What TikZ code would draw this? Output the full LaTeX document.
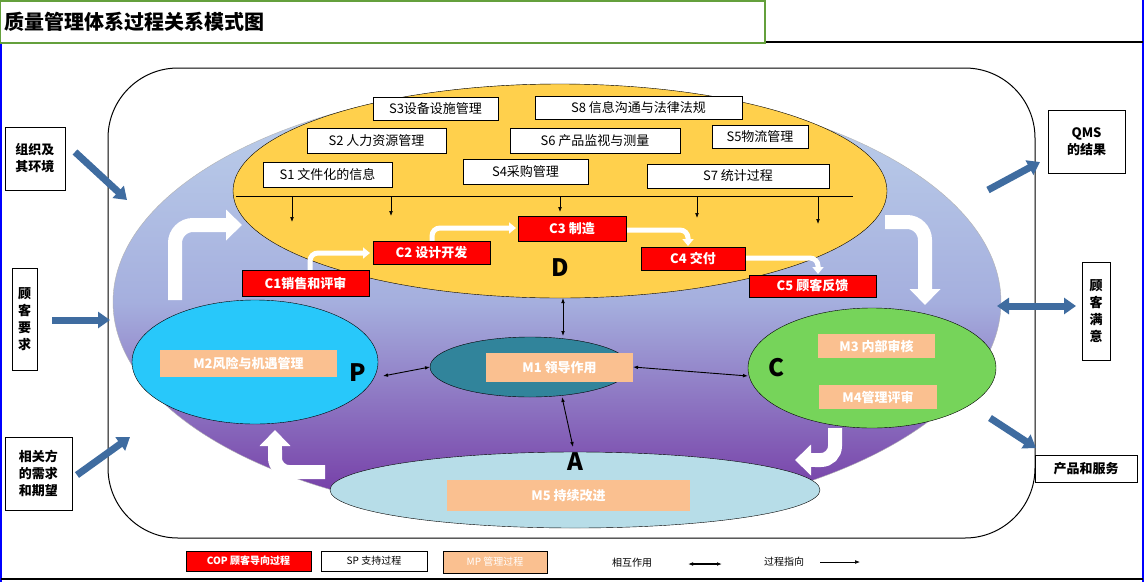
\documentclass[tikz,border=0pt]{standalone}
\usepackage{fontspec}
\setmainfont{Noto Sans CJK SC}
\usetikzlibrary{arrows.meta}
\definecolor{yel}{RGB}{255,208,76}
\definecolor{cred}{RGB}{255,0,0}
\definecolor{salm}{RGB}{250,192,144}
\definecolor{stb}{RGB}{63,108,160}
\definecolor{cyanE}{RGB}{40,200,250}
\definecolor{tealE}{RGB}{49,132,155}
\definecolor{grnE}{RGB}{118,212,90}
\definecolor{aE}{RGB}{183,221,232}
\definecolor{tgrn}{RGB}{100,160,60}
\tikzset{
 sbox/.style={draw,fill=white,inner sep=0pt,font=\fontsize{13}{14}\selectfont},
 cbox/.style={draw,fill=cred,text=white,inner sep=0pt,font=\bfseries\fontsize{13}{14}\selectfont},
 mbox/.style={fill=salm,text=white,inner sep=0pt,font=\bfseries\fontsize{13}{14}\selectfont},
 obox/.style={draw,fill=white,inner sep=0pt,font=\bfseries\fontsize{13}{17}\selectfont,align=center},
 dar/.style={{Latex[length=5pt]}-{Latex[length=5pt]},line width=0.9pt},
 sar/.style={-{Latex[length=5pt]},line width=0.6pt},
 war/.style={white,line width=14pt,-{Triangle[width=30pt,length=16pt]}},
 bar/.style={stb,line width=7pt,-{Triangle[width=16pt,length=12pt]}},
 big/.style={font=\bfseries\fontsize{24}{26}\selectfont},
}
\begin{document}
\begin{tikzpicture}[x=1pt,y=-1pt]
\useasboundingbox (0,0) rectangle (1146,582);
\fill[white] (0,0) rectangle (1146,582);
% frame
\draw[blue,line width=1.2pt] (1,43) -- (1,582);
\draw[blue,line width=1.2pt] (1143,0) -- (1143,582);
\draw[line width=1.5pt] (765,42) -- (1143,42);
\draw[line width=1.5pt] (1,579) -- (1143,579);
\draw[tgrn,line width=1.5pt] (0,1) rectangle (765,43);
\node[anchor=west,font=\bfseries\fontsize{20}{22}\selectfont] (title) at (1,22) {质量管理体系过程关系模式图};
% big rounded rect
\draw[line width=1pt,rounded corners=70pt] (108,68) rectangle (1035,538);
% big shaded ellipse
\shade[top color={rgb,255:red,190;green,210;blue,235},bottom color={rgb,255:red,112;green,48;blue,160},middle color={rgb,255:red,165;green,175;blue,222}] (557,302) ellipse [x radius=444,y radius=218];
\draw[gray!60] (557,302) ellipse [x radius=444,y radius=218];
% yellow ellipse
\draw[fill=yel] (560,191) ellipse [x radius=327,y radius=107];
% S boxes
\node[sbox,minimum width=125pt,minimum height=23pt] (s3) at (435.5,108.5) {S3设备设施管理};
\node[sbox,minimum width=207pt,minimum height=23pt] (s8) at (638.5,107.5) {S8 信息沟通与法律法规};
\node[sbox,minimum width=139pt,minimum height=25pt] (s2) at (376.5,140.5) {S2 人力资源管理};
\node[sbox,minimum width=170pt,minimum height=25pt] (s6) at (595,140.5) {S6 产品监视与测量};
\node[sbox,minimum width=96pt,minimum height=23pt] (s5) at (760,136.5) {S5物流管理};
\node[sbox,minimum width=129pt,minimum height=25pt] (s1) at (327.5,174.5) {S1 文件化的信息};
\node[sbox,minimum width=125pt,minimum height=25pt] (s4) at (525.5,171.5) {S4采购管理};
\node[sbox,minimum width=182pt,minimum height=24pt] (s7) at (738,176) {S7 统计过程};
\coordinate (hl) at (236,196); \coordinate (hr) at (853,196);
\draw[line width=1pt] (hl) -- (hr);
\foreach \x/\y in {292/222,391/216,560/212,697/218,818/224}{
 \draw[sar] (\x,196) -- (\x,\y);}
% white arrows between C boxes
\draw[white,line width=5pt,-{Triangle[width=11pt,length=7pt]},rounded corners=8pt] (310,270) -- (310,253) -- (370,253);
\draw[white,line width=5pt,-{Triangle[width=11pt,length=7pt]},rounded corners=8pt] (432,241) -- (432,228) -- (516,228);
\draw[white,line width=5pt,-{Triangle[width=11pt,length=7pt]},rounded corners=8pt] (626,230) -- (688,230) -- (688,246);
\draw[white,line width=5pt,-{Triangle[width=11pt,length=7pt]},rounded corners=8pt] (745,258) -- (818,258) -- (818,274);
% C boxes
\node[cbox,minimum width=127pt,minimum height=26pt] (c1) at (305.5,283) {C1销售和评审};
\node[cbox,minimum width=117pt,minimum height=23pt] (c2) at (431.5,252.5) {C2 设计开发};
\node[cbox,minimum width=108pt,minimum height=25pt] (c3) at (572,228.5) {C3 制造};
\node[cbox,minimum width=104pt,minimum height=23pt] (c4) at (693,258.5) {C4 交付};
\node[cbox,minimum width=127pt,minimum height=22pt] (c5) at (812.5,286) {C5 顾客反馈};
\node[big] (D) at (560,268) {D};
% big white arrows
\draw[war,rounded corners=18pt] (175,300) -- (175,225) -- (242,225);
\draw[war,rounded corners=18pt] (885,222) -- (925,222) -- (925,305);
\draw[white,line width=14pt,rounded corners=14pt] (835,428) -- (835,460) -- (815,460);
\draw[war] (822,460) -- (795,460);
\draw[white,line width=14pt,rounded corners=14pt] (325,472) -- (275,472) -- (275,450);
\draw[war] (275,458) -- (275,430);
% ellipses
\draw[fill=cyanE] (255,362) ellipse [x radius=123,y radius=62];
\draw[fill=tealE] (530,367) ellipse [x radius=100,y radius=30];
\draw[fill=grnE] (872,368) ellipse [x radius=124,y radius=60];
\draw[fill=aE] (575,490) ellipse [x radius=245,y radius=38];
\node[mbox,minimum width=177pt,minimum height=27pt] (m2) at (248.5,363.5) {M2风险与机遇管理};
\node[mbox,minimum width=147pt,minimum height=29pt] (m1) at (559.5,367.5) {M1 领导作用};
\node[mbox,minimum width=117pt,minimum height=24pt] (m3) at (876.5,346) {M3 内部审核};
\node[mbox,minimum width=118pt,minimum height=24pt] (m4) at (878,397) {M4管理评审};
\node[mbox,minimum width=243pt,minimum height=31pt] (m5) at (568.5,495.5) {M5 持续改进};
\node[big] (P) at (358,373) {P};
\node[big] (C) at (776,368) {C};
\node[big] (A) at (575,462) {A};
% interaction arrows
\coordinate (a1) at (563,298); \coordinate (a2) at (563,336);
\draw[dar] (a1) -- (a2);
\coordinate (b1) at (383,376); \coordinate (b2) at (430,367);
\draw[dar] (b1) -- (b2);
\coordinate (b3) at (633,367); \coordinate (b4) at (748,376);
\draw[dar] (b3) -- (b4);
\coordinate (b5) at (562,397); \coordinate (b6) at (573,447);
\draw[dar] (b5) -- (b6);
% outer boxes
\node[obox,minimum width=60pt,minimum height=63pt] (o1) at (35,158.5) {组织及\\其环境};
\node[obox,minimum width=25pt,minimum height=102pt] (o2) at (24.5,319) {顾\\客\\要\\求};
\node[obox,minimum width=67pt,minimum height=73pt] (o3) at (38.5,473.5) {相关方\\的需求\\和期望};
\node[obox,minimum width=77pt,minimum height=63pt] (o4) at (1086.5,141.5) {QMS\\的结果};
\node[obox,minimum width=28pt,minimum height=98pt] (o5) at (1096,311) {顾\\客\\满\\意};
\node[obox,minimum width=102pt,minimum height=27pt] (o6) at (1086,468.5) {产品和服务};
% steel arrows
\coordinate (p1) at (75,152); \draw[bar] (p1) -- (127,200);
\coordinate (p2) at (52,320); \draw[bar] (p2) -- (110,320);
\coordinate (p3) at (77,475); \draw[bar] (p3) -- (130,437);
\coordinate (p4) at (988,190); \draw[bar] (p4) -- (1040,162);
\coordinate (p5) at (997,306);
\draw[stb,line width=7pt,{Triangle[width=16pt,length=12pt]}-{Triangle[width=16pt,length=12pt]}] (p5) -- (1076,306);
\coordinate (p6) at (990,418); \draw[bar] (p6) -- (1036,448);
% legend
\node[cbox,minimum width=125pt,minimum height=20pt,font=\bfseries\fontsize{10}{11}\selectfont] (l1) at (248.5,561) {COP 顾客导向过程};
\node[sbox,minimum width=106pt,minimum height=20pt,font=\fontsize{10}{11}\selectfont] (l2) at (374,561) {SP 支持过程};
\node[draw,fill=salm,text=white,inner sep=0pt,minimum width=104pt,minimum height=22pt,font=\fontsize{10}{11}\selectfont] (l3) at (495,562) {MP 管理过程};
\node[font=\fontsize{10}{11}\selectfont] (l4) at (632,563) {相互作用};
\coordinate (l4a) at (688,564); \coordinate (l4b) at (722,564);
\draw[dar,line width=1.2pt] (l4a) -- (l4b);
\node[font=\fontsize{10}{11}\selectfont] (l5) at (784,562) {过程指向};
\coordinate (l5a) at (820,562); \coordinate (l5b) at (860,562);
\draw[sar] (l5a) -- (l5b);
\end{tikzpicture}
\end{document}
